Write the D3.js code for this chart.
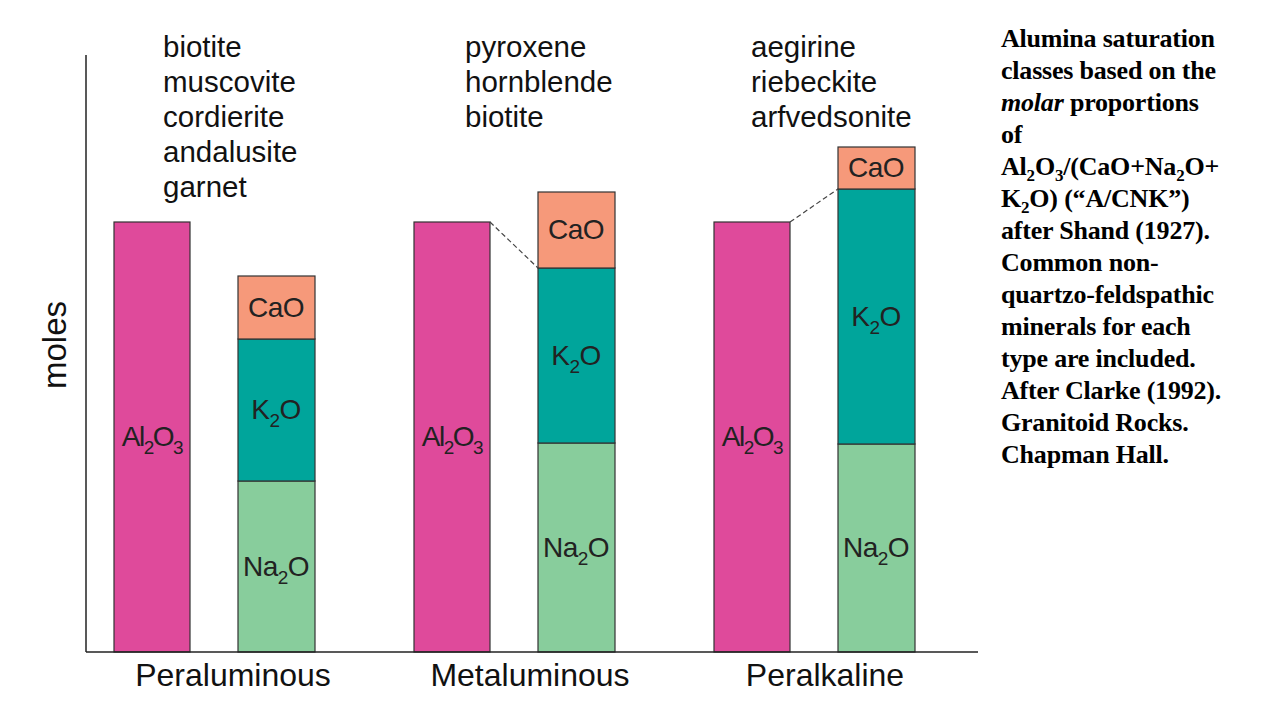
<!DOCTYPE html>
<html><head><meta charset="utf-8">
<script src="https://cdn.jsdelivr.net/npm/d3@7"></script>
<style>body{margin:0;background:#fff}</style></head>
<body><svg id="c" width="1280" height="720"></svg>
<script>
const categories = ["Peraluminous","Metaluminous","Peralkaline"];
const al2o3 = [430, 430, 430];
const na2o = [171, 209, 208];
const k2o = [142, 175, 255];
const cao = [63, 76, 42];
const minerals = [
  ["biotite","muscovite","cordierite","andalusite","garnet"],
  ["pyroxene","hornblende","biotite"],
  ["aegirine","riebeckite","arfvedsonite"]
];
const noteLines = [
  [["Alumina saturation",""]],
  [["classes based on the",""]],
  [["molar","i"],[" proportions",""]],
  [["of",""]],
  [["Al",""],["2","s"],["O",""],["3","s"],["/(CaO+Na",""],["2","s"],["O+",""]],
  [["K",""],["2","s"],["O) (\u201CA/CNK\u201D)",""]],
  [["after Shand (1927).",""]],
  [["Common non-",""]],
  [["quartzo-feldspathic",""]],
  [["minerals for each",""]],
  [["type are included.",""]],
  [["After Clarke (1992).",""]],
  [["Granitoid Rocks.",""]],
  [["Chapman Hall.",""]]
];
const colors = {al:"#df4a9b", na:"#88cd9c", k:"#00a59b", ca:"#f6997a"};

const svg = d3.select("#c");
const y = d3.scaleLinear().domain([0, 597]).range([652, 55]);
const x0 = d3.scaleOrdinal().domain(categories).range([114, 414, 714]);
const bw = 76;
const font = "Liberation Sans, Arial, sans-serif";

function rich(t, parts, size, subSize, shift){
  let sub=false;
  parts.forEach(p=>{
    const ts = t.append("tspan").text(p[0]);
    if(p[1]==="i") ts.attr("font-style","italic");
    if(p[1]==="s"){ ts.attr("font-size",subSize).attr("dy", sub?0:shift); sub=true; }
    else if(sub){ ts.attr("dy",-shift); sub=false; }
  });
}
const labX = [233, 530, 825];
const minX = [163, 465, 751];
categories.forEach((c,i)=>{
  const xa = x0(c), xs = xa + 124;
  const g = svg.append("g");
  g.append("rect").attr("x",xa).attr("y",y(al2o3[i])).attr("width",bw).attr("height",y(0)-y(al2o3[i]))
    .attr("fill",colors.al).attr("stroke","#333").attr("stroke-width",1.2);
  const segs = [["na",na2o[i],[["Na",""],["2","s"],["O",""]]],["k",k2o[i],[["K",""],["2","s"],["O",""]]],["ca",cao[i],[["CaO",""]]]];
  let base = 0;
  segs.forEach(s=>{
    const top = base + s[1];
    g.append("rect").attr("x",xs).attr("y",y(top)).attr("width",bw+1).attr("height",y(base)-y(top))
      .attr("fill",colors[s[0]]).attr("stroke","#333").attr("stroke-width",1.2);
    const t = g.append("text").attr("x",xs+bw/2).attr("y",(y(base)+y(top))/2+9).attr("text-anchor","middle")
      .attr("font-family",font).attr("font-size",28).attr("fill","#222").attr("letter-spacing",-0.5);
    rich(t, s[2], 28, 19, 8);
    base = top;
  });
  const ta = g.append("text").attr("x",xa+bw/2).attr("y",(y(0)+y(al2o3[i]))/2+9).attr("text-anchor","middle")
    .attr("font-family",font).attr("font-size",28).attr("fill","#222").attr("letter-spacing",-1.5);
  rich(ta, [["Al",""],["2","s"],["O",""],["3","s"]], 28, 19, 8);
  if(i>0){
    const tot = na2o[i]+k2o[i];
    g.append("line").attr("x1",xa+bw).attr("y1",y(al2o3[i])).attr("x2",xs).attr("y2",y(tot))
      .attr("stroke","#444").attr("stroke-width",1.2).attr("stroke-dasharray","5,3");
  }
  g.append("text").attr("x",labX[i]).attr("y",686).attr("text-anchor","middle")
    .attr("font-family",font).attr("font-size",32).attr("fill","#111").text(c);
  minerals[i].forEach((m,j)=>{
    g.append("text").attr("x",minX[i]).attr("y",57+j*35).attr("font-family",font).attr("font-size",29.5).attr("fill","#111").text(m);
  });
});
svg.append("line").attr("x1",86).attr("y1",55).attr("x2",86).attr("y2",652).attr("stroke","#222").attr("stroke-width",1.5);
svg.append("line").attr("x1",86).attr("y1",652).attr("x2",978).attr("y2",652).attr("stroke","#222").attr("stroke-width",1.5);
svg.append("text").attr("transform","translate(66,345) rotate(-90)").attr("text-anchor","middle")
  .attr("font-family",font).attr("font-size",33).attr("fill","#111").text("moles");

noteLines.forEach((ln,k)=>{
  const t = svg.append("text").attr("x",1001).attr("y",47+k*32).attr("font-family","Liberation Serif, Times New Roman, serif")
    .attr("font-size",26).attr("font-weight","bold").attr("fill","#000").attr("letter-spacing",-0.2);
  rich(t, ln, 26, 17, 6);
});
</script></body></html>
